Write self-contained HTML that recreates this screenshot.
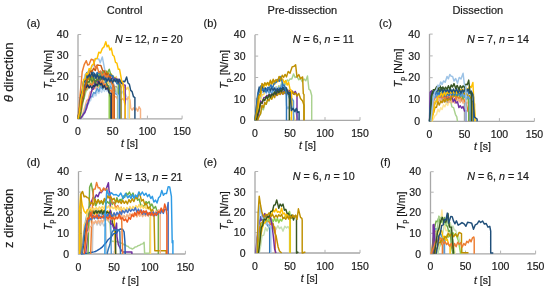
<!DOCTYPE html><html><head><meta charset="utf-8"><style>html,body{margin:0;padding:0;background:#fff;}svg{display:block;}#w{will-change:transform;width:550px;height:289px;overflow:hidden;}text{font-family:"Liberation Sans",sans-serif;fill:#1a1a1a;stroke:#1a1a1a;stroke-width:0.2px;}</style></head><body>
<div id="w"><svg width="550" height="289" viewBox="0 0 550 289">
<path d="M78.0 34.5V118.8H182.1" fill="none" stroke="#a8a8a8" stroke-width="1.3"/>
<path d="M78.0 118.8H81.2" stroke="#b3b3b3" stroke-width="1"/>
<path d="M78.0 97.7H81.2" stroke="#b3b3b3" stroke-width="1"/>
<path d="M78.0 76.7H81.2" stroke="#b3b3b3" stroke-width="1"/>
<path d="M78.0 55.6H81.2" stroke="#b3b3b3" stroke-width="1"/>
<path d="M78.0 34.5H81.2" stroke="#b3b3b3" stroke-width="1"/>
<path d="M78.0 118.8V115.6" stroke="#b3b3b3" stroke-width="1"/>
<path d="M112.7 118.8V115.6" stroke="#b3b3b3" stroke-width="1"/>
<path d="M147.4 118.8V115.6" stroke="#b3b3b3" stroke-width="1"/>
<path d="M182.1 118.8V115.6" stroke="#b3b3b3" stroke-width="1"/>
<polyline fill="none" stroke="#A5A5A5" stroke-width="1.45" stroke-linejoin="round" points="78.7,118.8 80.3,112.3 81.9,102.4 83.6,97.4 85.2,91.3 86.8,90.2 88.4,83.8 89.8,85.0 91.2,81.9 92.6,83.3 94.0,80.3 95.3,81.7 96.7,80.4 98.1,83.1 99.5,80.1 100.9,83.5 102.3,81.9 103.7,84.3 105.1,79.9 106.5,83.3 107.8,79.9 109.2,83.1 110.6,81.3 112.0,85.5 113.4,83.5 114.8,86.9 116.2,86.3 117.9,90.5 119.6,91.4 119.6,118.8"/>
<polyline fill="none" stroke="#43682B" stroke-width="1.45" stroke-linejoin="round" points="78.7,118.8 80.4,108.2 82.2,92.5 83.6,90.9 84.9,83.4 86.3,82.2 87.7,78.2 89.1,79.6 90.5,76.9 91.9,77.7 93.3,75.3 94.7,78.9 96.0,76.7 97.4,80.0 98.8,77.3 100.2,78.9 101.6,74.7 103.0,77.4 104.4,73.4 105.8,78.3 107.1,77.2 108.5,83.0 109.9,83.2 111.3,90.5 112.0,93.5 112.0,118.8"/>
<polyline fill="none" stroke="#BDD7EE" stroke-width="1.45" stroke-linejoin="round" points="82.2,118.8 83.6,114.6 84.9,112.6 86.3,105.3 87.7,105.4 89.1,100.0 90.5,100.8 91.9,96.2 93.3,97.2 94.7,93.4 96.0,95.9 97.4,91.0 98.8,93.5 100.2,89.8 101.6,92.4 103.0,88.5 104.4,91.4 105.8,87.9 107.1,91.4 108.5,87.1 109.9,90.8 111.3,87.5 112.7,90.1 114.1,87.9 115.5,91.9 116.9,88.3 118.3,93.0 119.6,90.2 121.0,93.6 122.4,91.3 123.8,94.7 125.2,93.3 126.6,96.6 128.0,97.7 128.0,118.8"/>
<polyline fill="none" stroke="#A9D18E" stroke-width="1.45" stroke-linejoin="round" points="79.4,118.8 80.8,112.5 82.2,107.0 83.6,99.0 84.9,95.4 86.3,90.0 87.7,89.3 89.1,84.3 90.5,85.1 91.9,81.7 93.3,83.6 94.7,80.1 96.0,83.4 97.4,78.8 98.8,82.6 100.2,78.9 101.6,81.0 103.0,77.9 104.4,80.9 105.8,77.3 107.1,81.4 108.5,80.3 109.9,83.2 111.3,81.9 112.9,87.3 114.6,86.9 116.2,92.5 117.6,93.5 117.6,118.8"/>
<polyline fill="none" stroke="#F4B183" stroke-width="1.45" stroke-linejoin="round" points="81.5,118.8 83.2,112.5 84.9,106.9 86.7,100.6 88.4,99.0 90.1,91.9 91.9,91.5 93.6,86.4 95.3,88.7 96.7,85.1 98.1,88.1 99.5,85.1 100.9,87.7 102.3,83.1 103.7,87.6 105.1,83.9 106.5,87.7 107.8,85.4 109.2,88.1 110.6,87.6 112.0,92.2 113.4,92.7 114.8,96.7 116.2,96.8 117.9,100.0 119.6,99.1 121.1,100.4 122.6,98.6 124.1,100.2 125.6,97.9 127.1,99.8 128.6,96.8 130.1,100.5 130.7,108.2 132.1,110.2 133.5,107.8 134.9,110.4 136.3,108.2 137.7,111.2 139.1,106.8 140.5,109.1 140.5,118.8"/>
<polyline fill="none" stroke="#92D050" stroke-width="1.45" stroke-linejoin="round" points="78.7,118.8 80.4,110.8 82.2,98.4 83.6,96.5 84.9,90.5 86.3,88.4 87.7,85.0 89.1,87.1 90.5,83.1 91.9,83.7 93.3,81.2 94.7,85.4 96.0,83.3 97.4,86.2 98.8,84.3 100.2,87.1 101.6,83.6 103.0,88.4 104.4,84.9 105.8,88.3 107.5,87.0 109.2,89.3 109.2,118.8"/>
<polyline fill="none" stroke="#5B9BD5" stroke-width="1.45" stroke-linejoin="round" points="80.8,118.8 82.2,116.0 83.6,113.2 84.9,111.3 86.7,104.2 88.4,103.5 90.1,96.8 91.9,96.8 93.6,92.5 95.3,93.4 97.1,88.1 98.8,91.4 100.6,86.2 102.3,89.2 104.0,84.2 105.8,86.1 107.5,84.6 109.2,88.5 111.0,87.5 112.7,90.0 114.4,90.2 116.2,94.6 117.9,93.8 119.6,100.0 121.0,99.8 121.0,118.8"/>
<polyline fill="none" stroke="#FFD966" stroke-width="1.45" stroke-linejoin="round" points="80.1,118.8 81.5,111.8 82.9,99.7 84.2,95.8 85.6,87.8 87.0,87.8 88.4,81.9 89.8,82.8 91.2,79.4 92.6,80.2 94.0,76.2 95.3,78.8 96.7,75.0 98.1,79.0 99.5,76.2 100.9,80.3 102.3,77.9 103.7,81.4 105.1,78.3 106.5,83.2 107.8,80.2 109.2,84.4 110.6,81.1 112.0,83.3 113.4,79.2 114.8,81.6 116.2,76.5 117.8,82.2 119.4,81.6 121.0,87.3 122.4,84.0 123.8,87.7 125.2,86.7 126.6,89.4 128.0,87.1 129.4,91.4 129.4,118.8"/>
<polyline fill="none" stroke="#70AD47" stroke-width="1.45" stroke-linejoin="round" points="78.0,118.8 79.7,108.2 81.5,92.6 83.2,89.2 84.9,78.6 86.7,80.5 88.4,75.4 90.1,79.3 91.9,77.9 93.3,78.6 94.7,74.8 96.0,78.0 97.4,73.8 98.8,76.8 100.2,72.7 101.6,75.8 103.0,71.2 104.4,73.9 105.8,71.3 107.5,72.6 109.2,69.2 111.0,75.1 112.7,75.5 114.4,80.1 116.2,80.0 118.3,83.0 118.3,118.8"/>
<polyline fill="none" stroke="#BF9000" stroke-width="1.45" stroke-linejoin="round" points="78.0,118.8 79.6,111.1 81.2,97.9 82.9,90.7 84.6,83.4 86.3,83.0 87.7,78.1 89.1,80.2 90.5,75.1 92.1,77.5 93.7,73.7 95.3,75.3 97.0,74.5 98.6,78.3 100.2,78.1 101.6,79.2 103.0,74.6 104.4,75.5 105.8,70.6 107.1,74.9 108.5,72.9 109.9,76.5 111.3,74.2 112.7,78.6 114.1,77.2 115.5,81.1 116.9,79.8 118.3,84.1 119.6,83.1 121.0,87.2 121.0,118.8"/>
<polyline fill="none" stroke="#ED7D31" stroke-width="1.45" stroke-linejoin="round" points="79.4,118.8 80.8,109.8 82.2,96.1 83.6,95.4 84.9,87.1 86.3,89.7 87.7,85.5 89.1,87.7 90.5,83.6 92.1,85.5 93.7,80.8 95.3,82.4 96.7,79.8 98.1,83.9 99.5,80.3 100.9,84.7 102.3,80.7 103.7,85.4 105.1,83.9 106.5,89.0 107.8,86.0 109.2,90.2 111.0,90.5 112.7,94.9 114.1,95.6 114.1,118.8"/>
<polyline fill="none" stroke="#7030A0" stroke-width="1.45" stroke-linejoin="round" points="80.1,118.8 81.7,116.7 83.3,114.6 84.9,112.5 86.7,108.0 88.4,100.8 90.1,97.5 91.9,89.6 93.6,89.1 95.3,80.8 97.1,81.8 98.8,76.9 100.2,80.1 101.6,77.0 103.0,79.6 104.4,74.8 105.8,77.7 107.1,74.8 108.5,78.8 109.9,76.4 111.3,80.6 112.7,76.7 114.1,80.1 115.5,78.2 116.9,81.6 118.3,79.2 119.6,81.9 121.4,80.7 123.1,84.8 125.2,85.1 125.2,118.8"/>
<polyline fill="none" stroke="#548235" stroke-width="1.45" stroke-linejoin="round" points="79.4,118.8 80.8,112.5 82.2,103.2 83.6,99.1 84.9,90.7 86.3,86.3 87.7,81.3 89.1,82.4 90.5,78.0 92.1,81.8 93.7,78.2 95.3,83.1 96.7,79.2 98.1,80.3 99.5,77.6 100.9,79.5 102.3,75.5 103.9,79.7 105.5,79.5 107.1,85.1 108.5,86.2 109.9,94.6 110.6,97.7 110.6,118.8"/>
<polyline fill="none" stroke="#2E75B6" stroke-width="1.45" stroke-linejoin="round" points="78.0,118.8 79.4,109.9 80.8,96.9 82.2,90.9 83.6,81.1 84.9,77.5 86.7,72.7 88.4,72.1 90.1,70.0 91.9,73.3 93.6,72.3 95.3,78.4 97.1,72.5 98.8,73.3 100.6,71.4 102.3,75.3 104.0,75.6 105.8,82.3 107.1,78.6 108.5,80.4 109.9,74.5 111.3,75.7 112.7,75.7 114.1,80.3 115.5,79.8 116.9,83.8 118.3,83.1 119.6,85.1 119.6,118.8"/>
<polyline fill="none" stroke="#203864" stroke-width="1.45" stroke-linejoin="round" points="78.0,118.8 79.7,106.9 81.5,92.5 83.2,90.5 84.9,83.9 86.3,87.4 87.7,84.8 89.1,87.9 90.5,85.8 91.9,88.5 93.3,85.6 94.7,86.6 96.0,83.9 97.4,85.7 98.8,81.4 100.2,84.8 101.6,83.2 103.0,87.7 104.4,85.5 105.8,89.2 107.5,87.9 109.2,92.9 111.3,93.5 111.3,118.8"/>
<polyline fill="none" stroke="#9DC3E6" stroke-width="1.45" stroke-linejoin="round" points="78.0,118.8 79.7,110.3 81.5,96.4 83.2,88.7 84.9,74.8 86.7,76.8 88.4,71.2 90.1,72.4 91.9,66.4 93.6,65.7 95.3,58.4 97.4,58.9 98.8,59.0 100.2,62.8 102.3,56.9 104.4,68.0 105.8,75.5 107.5,79.7 109.2,80.0 111.0,86.1 112.7,85.1 114.4,92.1 116.2,92.4 118.3,95.6 118.3,118.8"/>
<polyline fill="none" stroke="#C55A11" stroke-width="1.45" stroke-linejoin="round" points="78.0,118.8 79.4,112.5 80.8,107.3 82.2,98.7 83.6,94.9 84.9,86.9 86.3,83.7 87.7,75.5 89.1,76.8 90.5,70.2 91.9,71.9 93.6,68.2 95.3,70.5 97.1,64.9 98.8,65.3 100.9,65.4 102.6,70.6 104.4,71.0 105.8,75.0 107.1,73.5 108.5,77.1 109.9,76.0 111.3,82.0 112.7,84.2 114.1,87.2 114.1,118.8"/>
<polyline fill="none" stroke="#ED7D31" stroke-width="1.45" stroke-linejoin="round" points="78.0,118.8 80.1,94.9 82.2,71.7 84.2,64.7 86.3,60.7 87.7,65.1 89.1,64.5 91.2,59.2 93.3,60.0 95.3,67.9 97.1,66.4 98.8,72.5 100.6,71.1 102.3,75.8 104.0,73.3 105.8,77.6 107.5,75.8 109.2,80.5 111.3,82.2 112.7,85.1 112.7,118.8"/>
<polyline fill="none" stroke="#1F4E79" stroke-width="1.45" stroke-linejoin="round" points="78.0,118.8 79.4,110.3 80.8,95.6 82.2,92.1 83.6,81.1 84.9,81.8 86.3,75.7 87.7,77.7 89.1,74.1 90.5,77.1 91.9,72.5 93.3,77.0 94.7,73.7 96.0,78.0 97.4,74.4 98.8,78.5 100.2,76.0 101.6,78.2 103.0,77.0 104.4,79.6 105.8,77.9 107.1,81.2 108.5,78.0 109.9,81.7 111.3,78.7 112.7,82.7 114.1,79.4 115.5,81.6 116.9,78.9 118.3,82.8 119.6,79.3 121.4,83.5 123.1,81.2 124.8,81.7 126.6,76.9 128.0,83.0 129.4,84.3 130.7,90.4 132.1,91.6 133.5,96.7 134.9,97.7 134.9,118.8"/>
<polyline fill="none" stroke="#FFC000" stroke-width="1.45" stroke-linejoin="round" points="78.0,118.8 79.4,112.3 80.8,99.7 82.2,92.9 83.6,79.6 84.9,79.5 86.3,73.4 87.7,74.4 89.1,68.6 90.5,69.9 91.9,65.3 93.6,63.9 95.3,58.7 97.1,58.5 98.8,52.3 100.6,53.0 102.3,48.5 104.0,46.9 105.8,41.8 107.1,46.8 108.5,45.3 109.9,50.0 111.3,48.1 112.7,55.0 114.1,56.2 115.5,62.3 116.9,63.1 118.3,69.3 119.6,69.3 121.7,81.0 123.1,82.9 124.5,102.7 125.2,106.2 125.2,118.8"/>
<text x="68.5" y="122.5" font-size="10.5" text-anchor="end">0</text>
<text x="68.5" y="101.4" font-size="10.5" text-anchor="end">10</text>
<text x="68.5" y="80.4" font-size="10.5" text-anchor="end">20</text>
<text x="68.5" y="59.3" font-size="10.5" text-anchor="end">30</text>
<text x="68.5" y="38.2" font-size="10.5" text-anchor="end">40</text>
<text x="78.0" y="135.4" font-size="10.5" text-anchor="middle">0</text>
<text x="112.7" y="135.4" font-size="10.5" text-anchor="middle">50</text>
<text x="147.4" y="135.4" font-size="10.5" text-anchor="middle">100</text>
<text x="182.1" y="135.4" font-size="10.5" text-anchor="middle">150</text>
<text x="129.5" y="147.1" font-size="10.5" text-anchor="middle"><tspan font-style="italic">t</tspan> [s]</text>
<text transform="translate(51.5 69.5) rotate(-90)" font-size="10.5" text-anchor="middle"><tspan font-style="italic">T</tspan><tspan font-size="7.5" dy="2.5">p</tspan><tspan dy="-2.5"> [N/m]</tspan></text>
<text x="114.9" y="43.3" font-size="10.7"><tspan font-style="italic">N</tspan> = 12, <tspan font-style="italic">n</tspan> = 20</text>
<text x="26.8" y="27.3" font-size="11">(a)</text>
<text x="124.6" y="14.3" font-size="11" text-anchor="middle">Control</text>
<path d="M255.0 34.7V120.3H360.0" fill="none" stroke="#a8a8a8" stroke-width="1.3"/>
<path d="M255.0 120.3H258.2" stroke="#b3b3b3" stroke-width="1"/>
<path d="M255.0 98.9H258.2" stroke="#b3b3b3" stroke-width="1"/>
<path d="M255.0 77.5H258.2" stroke="#b3b3b3" stroke-width="1"/>
<path d="M255.0 56.1H258.2" stroke="#b3b3b3" stroke-width="1"/>
<path d="M255.0 34.7H258.2" stroke="#b3b3b3" stroke-width="1"/>
<path d="M255.0 120.3V117.1" stroke="#b3b3b3" stroke-width="1"/>
<path d="M290.0 120.3V117.1" stroke="#b3b3b3" stroke-width="1"/>
<path d="M325.0 120.3V117.1" stroke="#b3b3b3" stroke-width="1"/>
<path d="M360.0 120.3V117.1" stroke="#b3b3b3" stroke-width="1"/>
<polyline fill="none" stroke="#A9D18E" stroke-width="1.45" stroke-linejoin="round" points="257.1,120.3 258.7,116.7 260.4,114.6 262.0,107.5 263.4,109.8 264.8,103.9 266.2,104.3 267.6,100.0 269.0,101.2 270.4,96.1 271.8,97.1 273.2,92.8 274.6,93.6 276.0,88.1 277.4,90.0 278.8,85.7 280.2,88.0 281.6,83.0 283.0,85.8 284.4,82.0 285.8,84.4 287.2,79.9 288.6,81.2 290.0,78.9 291.8,79.0 293.5,73.9 295.2,77.6 297.0,76.6 298.8,79.8 300.5,78.4 302.2,81.7 304.0,78.9 305.8,80.8 307.5,76.0 308.9,89.1 310.3,90.3 311.7,95.5 311.7,120.3"/>
<polyline fill="none" stroke="#FFD966" stroke-width="1.45" stroke-linejoin="round" points="256.4,120.3 257.8,115.1 259.2,103.8 260.6,100.1 262.2,94.7 263.9,94.6 265.5,88.0 266.9,91.6 268.3,88.2 269.7,90.5 271.1,87.5 272.5,89.0 273.9,87.3 275.3,90.3 276.7,87.0 278.1,90.4 279.5,87.1 280.9,89.8 282.3,87.5 283.7,90.5 285.1,88.6 286.5,92.6 288.1,89.6 289.8,95.2 291.4,92.9 293.5,113.9 294.9,120.3"/>
<polyline fill="none" stroke="#9DC3E6" stroke-width="1.45" stroke-linejoin="round" points="255.7,120.3 257.1,112.9 258.5,98.8 260.2,98.4 262.0,90.6 263.4,92.8 264.8,89.7 266.2,92.7 267.6,88.8 269.0,92.1 270.4,88.7 271.8,90.3 273.2,86.8 274.6,89.5 276.0,86.7 277.4,89.9 278.8,87.9 280.2,91.4 281.6,87.6 283.0,91.5 284.4,89.6 285.8,93.7 286.5,105.8 287.9,108.8 289.3,106.5 290.7,108.4 292.1,106.4 293.5,109.7 295.2,110.2 297.0,116.0 298.4,120.3"/>
<polyline fill="none" stroke="#7030A0" stroke-width="1.45" stroke-linejoin="round" points="257.1,120.3 258.9,112.8 260.6,101.0 262.2,103.4 263.9,97.4 265.5,97.7 266.9,95.3 268.3,96.8 269.7,94.2 271.1,95.9 272.5,93.5 273.9,95.3 275.3,92.1 276.7,95.5 278.1,91.0 279.5,93.9 280.9,91.1 282.3,94.0 283.7,91.2 285.1,93.7 286.5,91.7 287.9,93.6 289.3,90.2 290.7,93.4 292.1,90.9 293.5,94.2 295.2,91.4 297.0,94.6 297.0,120.3"/>
<polyline fill="none" stroke="#5B9BD5" stroke-width="1.45" stroke-linejoin="round" points="255.0,120.3 256.8,106.4 258.5,89.2 260.2,90.4 262.0,86.8 263.4,90.5 264.8,87.6 266.2,92.9 267.6,89.5 269.0,93.2 270.4,91.3 271.8,93.5 273.2,89.0 274.6,92.2 276.0,88.7 277.4,90.2 278.8,87.3 280.2,90.0 281.6,84.8 283.0,88.2 284.8,87.0 286.5,93.6 288.2,94.8 290.0,99.9 291.8,98.4 293.5,101.0 293.5,120.3"/>
<polyline fill="none" stroke="#BF9000" stroke-width="1.45" stroke-linejoin="round" points="257.8,120.3 259.2,116.0 260.6,113.6 262.0,105.2 263.4,107.7 264.8,102.3 266.2,104.3 267.6,99.2 269.0,100.5 270.4,97.3 271.8,99.2 273.2,95.2 274.6,97.7 276.0,92.8 277.4,95.4 278.8,92.8 280.2,94.4 281.6,91.2 283.0,94.3 284.4,91.6 285.8,93.3 287.2,90.9 288.6,94.1 290.0,91.1 291.4,94.0 292.8,91.6 294.2,94.5 295.6,93.0 297.0,96.1 298.8,93.4 300.5,98.5 302.6,101.0 304.0,105.3 304.0,120.3"/>
<polyline fill="none" stroke="#FFC000" stroke-width="1.45" stroke-linejoin="round" points="256.4,120.3 257.8,111.1 259.2,97.8 260.6,95.7 262.0,88.1 263.4,87.9 264.8,84.3 266.2,85.7 267.6,82.9 269.0,85.7 270.4,82.1 271.8,84.2 273.2,80.8 274.6,84.4 276.0,80.7 277.6,81.8 279.3,79.1 280.9,81.0 282.6,78.9 284.4,82.8 285.8,80.5 287.2,85.1 288.6,82.4 290.0,89.2 291.4,90.3 291.4,120.3"/>
<polyline fill="none" stroke="#375623" stroke-width="1.45" stroke-linejoin="round" points="256.4,120.3 257.8,113.9 259.2,109.8 260.6,103.0 262.0,103.1 263.4,99.1 264.8,100.4 266.2,96.5 267.6,98.8 269.0,94.5 270.4,97.4 271.8,94.0 273.2,95.3 274.6,91.9 276.0,94.3 277.4,89.8 278.8,92.6 280.2,89.8 281.6,91.8 283.0,88.0 284.4,90.2 285.8,87.4 287.9,93.3 289.3,94.6 289.3,120.3"/>
<polyline fill="none" stroke="#1F4E79" stroke-width="1.45" stroke-linejoin="round" points="255.0,120.3 257.1,100.2 259.2,87.1 260.6,90.9 262.0,86.3 263.8,91.6 265.5,88.1 267.2,90.5 269.0,87.2 270.4,90.9 271.8,87.1 273.2,90.2 274.6,88.1 276.0,91.7 277.4,88.6 278.8,90.7 280.2,88.1 281.6,89.3 283.0,87.0 284.8,90.6 286.5,88.1 288.2,93.4 290.0,92.3 291.4,110.6 293.1,108.3 294.9,111.7 296.3,108.3 297.7,112.4 299.1,111.7 299.1,120.3"/>
<polyline fill="none" stroke="#2E75B6" stroke-width="1.45" stroke-linejoin="round" points="255.0,120.3 256.4,108.3 257.8,93.1 259.2,92.7 260.6,86.0 262.4,90.3 264.1,89.0 265.9,91.5 267.6,87.5 269.2,88.9 270.9,84.7 272.5,88.0 274.2,83.1 276.0,82.6 277.6,79.6 279.3,81.2 280.9,76.4 283.0,85.9 284.4,84.9 285.8,91.6 286.5,94.6 286.5,120.3"/>
<polyline fill="none" stroke="#BF9000" stroke-width="1.45" stroke-linejoin="round" points="255.0,120.3 256.8,110.8 258.5,96.6 260.2,93.5 262.0,83.4 263.4,86.1 264.8,82.7 266.2,84.7 267.6,82.5 269.0,84.8 270.4,80.2 271.8,83.7 273.2,79.3 274.6,81.9 276.0,79.6 277.6,81.2 279.1,76.4 280.7,79.9 282.3,75.3 283.7,77.3 285.1,74.4 286.5,76.9 288.2,71.5 290.0,73.2 292.1,66.9 294.2,66.2 295.6,64.7 297.0,77.1 298.8,74.6 300.5,78.7 302.6,76.9 303.3,93.6 304.0,94.6 304.0,120.3"/>
<text x="245.5" y="124.0" font-size="10.5" text-anchor="end">0</text>
<text x="245.5" y="102.6" font-size="10.5" text-anchor="end">10</text>
<text x="245.5" y="81.2" font-size="10.5" text-anchor="end">20</text>
<text x="245.5" y="59.8" font-size="10.5" text-anchor="end">30</text>
<text x="245.5" y="38.4" font-size="10.5" text-anchor="end">40</text>
<text x="255.0" y="136.9" font-size="10.5" text-anchor="middle">0</text>
<text x="290.0" y="136.9" font-size="10.5" text-anchor="middle">50</text>
<text x="325.0" y="136.9" font-size="10.5" text-anchor="middle">100</text>
<text x="360.0" y="136.9" font-size="10.5" text-anchor="middle">150</text>
<text x="307.4" y="149.0" font-size="10.5" text-anchor="middle"><tspan font-style="italic">t</tspan> [s]</text>
<text transform="translate(228.1 69.5) rotate(-90)" font-size="10.5" text-anchor="middle"><tspan font-style="italic">T</tspan><tspan font-size="7.5" dy="2.5">p</tspan><tspan dy="-2.5"> [N/m]</tspan></text>
<text x="292.8" y="43.3" font-size="10.7"><tspan font-style="italic">N</tspan> = 6, <tspan font-style="italic">n</tspan> = 11</text>
<text x="203.6" y="27.3" font-size="11">(b)</text>
<text x="302.4" y="14.3" font-size="11" text-anchor="middle">Pre-dissection</text>
<path d="M429.5 34.1V121.3H534.4" fill="none" stroke="#a8a8a8" stroke-width="1.3"/>
<path d="M429.5 121.3H432.7" stroke="#b3b3b3" stroke-width="1"/>
<path d="M429.5 99.5H432.7" stroke="#b3b3b3" stroke-width="1"/>
<path d="M429.5 77.7H432.7" stroke="#b3b3b3" stroke-width="1"/>
<path d="M429.5 55.9H432.7" stroke="#b3b3b3" stroke-width="1"/>
<path d="M429.5 34.1H432.7" stroke="#b3b3b3" stroke-width="1"/>
<path d="M429.5 121.3V118.1" stroke="#b3b3b3" stroke-width="1"/>
<path d="M464.5 121.3V118.1" stroke="#b3b3b3" stroke-width="1"/>
<path d="M499.4 121.3V118.1" stroke="#b3b3b3" stroke-width="1"/>
<path d="M534.4 121.3V118.1" stroke="#b3b3b3" stroke-width="1"/>
<polyline fill="none" stroke="#A5A5A5" stroke-width="1.45" stroke-linejoin="round" points="430.9,121.3 432.3,114.6 433.7,103.0 435.3,103.8 436.8,99.7 438.4,101.7 440.0,98.7 441.4,100.7 442.8,98.7 444.2,102.1 445.6,98.9 447.0,103.9 448.4,98.4 449.8,101.1 451.2,98.2 452.6,99.1 454.0,95.8 455.4,99.7 456.8,96.7 458.2,99.7 459.6,97.6 461.0,101.3 462.7,98.7 464.5,101.7 464.5,121.3"/>
<polyline fill="none" stroke="#FFE699" stroke-width="1.45" stroke-linejoin="round" points="432.3,121.3 433.7,118.4 435.1,115.5 436.5,114.6 437.9,109.1 439.3,111.8 440.7,107.7 442.1,109.5 443.5,104.8 444.9,106.8 446.3,102.9 447.7,105.4 449.1,101.5 450.5,102.8 451.9,99.7 453.3,100.9 454.7,96.9 456.1,99.9 457.5,96.1 458.9,99.1 460.3,95.8 461.7,100.2 463.1,98.0 464.5,101.6 465.9,98.1 467.3,102.7 468.7,99.9 470.1,102.8 471.5,99.6 473.2,104.9 475.0,103.9 475.0,121.3"/>
<polyline fill="none" stroke="#A9D18E" stroke-width="1.45" stroke-linejoin="round" points="430.9,121.3 432.3,114.8 433.7,103.1 435.1,102.9 436.5,98.6 437.9,98.4 439.3,94.4 440.7,97.9 442.1,93.4 443.5,96.5 444.9,94.0 446.3,98.8 447.7,97.3 449.1,101.5 450.5,100.5 451.9,106.9 453.6,107.6 455.4,114.3 456.8,116.9 457.5,121.3"/>
<polyline fill="none" stroke="#F4B183" stroke-width="1.45" stroke-linejoin="round" points="430.2,121.3 432.3,105.0 433.7,99.3 435.1,98.3 436.8,97.3 438.6,100.7 440.2,98.5 441.9,102.8 443.5,100.6 445.2,101.3 447.0,98.2 448.7,102.4 450.5,100.7 451.9,102.7 453.3,100.2 454.7,103.1 456.1,99.2 457.5,101.4 458.9,99.9 460.3,102.4 461.7,99.6 463.1,103.2 464.5,100.8 466.2,103.8 468.0,102.0 468.7,106.0 468.7,121.3"/>
<polyline fill="none" stroke="#7030A0" stroke-width="1.45" stroke-linejoin="round" points="429.5,121.3 430.2,92.2 431.6,90.7 433.0,94.2 434.4,91.1 435.8,95.1 437.2,92.6 438.6,96.0 440.0,93.7 441.4,97.8 442.8,93.6 444.2,97.8 445.6,95.8 447.0,99.3 448.6,97.0 450.2,99.5 451.9,97.3 453.3,101.7 454.7,98.8 456.1,103.1 457.5,101.7 458.9,107.5 460.3,105.8 461.7,108.2 463.1,106.6 464.5,111.1 465.9,110.4 465.9,121.3"/>
<polyline fill="none" stroke="#ED7D31" stroke-width="1.45" stroke-linejoin="round" points="430.9,121.3 433.0,103.9 434.7,97.5 436.5,96.9 437.9,94.2 439.3,97.6 440.7,95.5 442.1,98.1 443.5,95.7 444.9,99.2 446.3,95.6 447.7,97.6 449.1,93.5 450.5,97.5 451.9,94.5 453.3,96.9 454.7,94.1 456.1,99.2 457.5,95.8 458.9,98.6 460.3,95.9 461.7,100.0 463.1,96.8 464.5,101.3 466.2,102.9 468.0,111.4 469.4,112.6 469.4,121.3"/>
<polyline fill="none" stroke="#BF9000" stroke-width="1.45" stroke-linejoin="round" points="430.2,121.3 431.9,115.8 433.7,112.4 435.1,107.1 436.5,107.4 437.9,101.7 439.3,105.1 440.7,101.2 442.1,102.5 443.5,99.2 444.9,101.9 446.3,98.7 447.7,100.7 449.1,98.4 450.7,100.0 452.3,94.4 454.0,95.9 455.4,93.0 456.8,96.3 458.2,93.0 459.6,95.5 461.0,92.0 462.4,95.1 463.8,92.2 465.2,96.0 466.6,93.5 468.0,96.6 469.7,95.6 471.5,100.9 472.9,101.7 472.9,121.3"/>
<polyline fill="none" stroke="#70AD47" stroke-width="1.45" stroke-linejoin="round" points="429.5,121.3 431.6,97.0 433.3,91.5 435.1,92.2 436.5,90.0 437.9,92.5 439.3,89.2 440.7,91.9 442.1,88.8 443.5,92.8 444.9,89.7 446.3,92.7 447.7,90.6 449.1,93.4 450.5,92.0 451.9,94.8 453.3,93.0 454.7,95.7 456.1,93.1 457.5,95.9 458.9,93.8 460.3,96.9 461.7,94.5 463.1,98.9 464.5,95.8 466.2,99.2 468.0,97.9 468.7,101.7 468.7,121.3"/>
<polyline fill="none" stroke="#5B9BD5" stroke-width="1.45" stroke-linejoin="round" points="430.2,121.3 432.3,100.9 433.7,95.7 435.1,97.5 436.5,93.0 437.9,97.1 439.3,92.3 440.7,95.9 442.1,92.3 443.5,95.3 444.9,91.0 446.3,94.4 447.7,89.4 449.1,92.2 450.5,88.7 452.0,93.7 453.5,91.2 455.0,94.0 456.5,91.3 458.0,94.9 459.5,92.3 461.0,96.3 462.4,93.5 463.8,97.0 465.2,94.9 466.6,99.2 468.0,96.3 470.1,99.5 470.1,121.3"/>
<polyline fill="none" stroke="#2E75B6" stroke-width="1.45" stroke-linejoin="round" points="429.5,121.3 431.6,94.1 433.2,91.4 434.9,94.2 436.5,92.2 437.9,94.2 439.3,92.4 440.7,95.9 442.1,92.0 443.5,96.3 444.9,93.0 446.3,96.1 447.7,93.1 449.1,95.7 450.5,92.3 451.9,95.2 453.3,91.4 454.7,95.1 456.1,91.5 457.5,95.2 458.9,91.6 460.3,94.5 461.7,89.9 463.1,92.6 464.5,88.7 465.9,92.5 467.3,89.5 468.7,94.1 470.1,91.6 471.5,96.1 472.9,93.7 473.6,97.3 473.6,121.3"/>
<polyline fill="none" stroke="#FFC000" stroke-width="1.45" stroke-linejoin="round" points="431.6,121.3 433.3,113.6 435.1,101.9 436.7,101.7 438.4,95.9 440.0,96.3 441.4,92.9 442.8,96.6 444.2,92.1 445.6,95.2 447.0,91.7 448.4,93.5 449.8,91.7 451.2,93.3 452.6,90.3 454.0,93.3 455.4,90.1 456.8,93.7 458.2,90.3 459.6,92.1 461.0,89.0 462.4,91.1 463.8,89.2 465.2,90.8 466.6,88.1 468.0,89.9 469.6,86.0 471.2,87.4 472.9,82.5 473.6,96.2 474.3,108.6 475.0,114.8 475.0,121.3"/>
<polyline fill="none" stroke="#1F4E79" stroke-width="1.45" stroke-linejoin="round" points="429.5,121.3 430.9,96.7 432.3,92.0 433.7,93.1 435.3,89.4 436.8,91.2 438.4,89.1 440.0,91.5 441.5,87.7 443.0,92.0 444.5,88.8 446.0,91.5 447.5,89.7 449.0,92.4 450.5,89.1 452.0,92.1 453.5,89.0 455.0,92.2 456.5,88.5 458.0,92.7 459.5,89.6 461.0,93.0 462.4,89.8 463.8,92.0 465.2,88.7 466.6,91.0 468.0,88.9 469.6,92.8 471.2,91.1 472.9,94.6 474.3,116.9 475.7,118.0 477.1,119.1 477.1,121.3"/>
<polyline fill="none" stroke="#375623" stroke-width="1.45" stroke-linejoin="round" points="430.2,121.3 431.6,95.2 433.3,89.8 435.1,89.6 436.7,86.5 438.4,89.5 440.0,85.7 441.4,89.8 442.8,86.9 444.2,89.4 445.6,87.2 447.0,89.4 448.4,85.8 449.8,89.5 451.2,85.0 452.6,87.1 454.0,83.6 455.6,88.3 457.2,85.4 458.9,89.5 460.3,85.8 461.7,88.1 463.1,85.8 464.5,87.5 465.9,84.2 467.3,84.8 468.7,80.1 470.1,92.7 471.5,93.0 471.5,121.3"/>
<polyline fill="none" stroke="#9DC3E6" stroke-width="1.45" stroke-linejoin="round" points="430.9,121.3 433.0,101.6 434.7,92.1 436.5,89.8 437.9,85.1 439.3,86.4 440.7,81.9 442.1,84.6 443.5,80.9 445.2,82.2 447.0,76.5 448.4,78.8 449.8,74.4 451.2,76.3 452.6,76.5 454.0,81.0 455.7,78.5 457.5,83.3 459.2,77.4 461.0,79.0 463.1,73.3 464.5,85.5 465.9,86.4 465.9,121.3"/>
<text x="420.0" y="125.0" font-size="10.5" text-anchor="end">0</text>
<text x="420.0" y="103.2" font-size="10.5" text-anchor="end">10</text>
<text x="420.0" y="81.4" font-size="10.5" text-anchor="end">20</text>
<text x="420.0" y="59.6" font-size="10.5" text-anchor="end">30</text>
<text x="420.0" y="37.8" font-size="10.5" text-anchor="end">40</text>
<text x="429.5" y="137.9" font-size="10.5" text-anchor="middle">0</text>
<text x="464.5" y="137.9" font-size="10.5" text-anchor="middle">50</text>
<text x="499.4" y="137.9" font-size="10.5" text-anchor="middle">100</text>
<text x="534.4" y="137.9" font-size="10.5" text-anchor="middle">150</text>
<text x="482.4" y="150.0" font-size="10.5" text-anchor="middle"><tspan font-style="italic">t</tspan> [s]</text>
<text transform="translate(402.1 68.0) rotate(-90)" font-size="10.5" text-anchor="middle"><tspan font-style="italic">T</tspan><tspan font-size="7.5" dy="2.5">p</tspan><tspan dy="-2.5"> [N/m]</tspan></text>
<text x="467.1" y="42.8" font-size="10.7"><tspan font-style="italic">N</tspan> = 7, <tspan font-style="italic">n</tspan> = 14</text>
<text x="379.1" y="27.3" font-size="11">(c)</text>
<text x="477.8" y="14.3" font-size="11" text-anchor="middle">Dissection</text>
<path d="M78.5 171.5V254.0H185.4" fill="none" stroke="#a8a8a8" stroke-width="1.3"/>
<path d="M78.5 254.0H81.7" stroke="#b3b3b3" stroke-width="1"/>
<path d="M78.5 233.4H81.7" stroke="#b3b3b3" stroke-width="1"/>
<path d="M78.5 212.8H81.7" stroke="#b3b3b3" stroke-width="1"/>
<path d="M78.5 192.1H81.7" stroke="#b3b3b3" stroke-width="1"/>
<path d="M78.5 171.5H81.7" stroke="#b3b3b3" stroke-width="1"/>
<path d="M78.5 254.0V250.8" stroke="#b3b3b3" stroke-width="1"/>
<path d="M114.1 254.0V250.8" stroke="#b3b3b3" stroke-width="1"/>
<path d="M149.8 254.0V250.8" stroke="#b3b3b3" stroke-width="1"/>
<path d="M185.4 254.0V250.8" stroke="#b3b3b3" stroke-width="1"/>
<polyline fill="none" stroke="#C9C9C9" stroke-width="1.45" stroke-linejoin="round" points="92.3,254.0 93.0,225.4 95.6,220.9 97.1,225.0 98.6,221.7 100.3,225.5 102.0,221.9 103.9,226.0 105.8,223.1 106.6,254.0"/>
<polyline fill="none" stroke="#A9D18E" stroke-width="1.45" stroke-linejoin="round" points="84.2,254.0 85.6,244.1 87.1,232.9 88.5,227.5 89.9,220.6 91.3,220.0 92.8,218.0 94.2,217.1 95.6,216.2 97.0,216.5 98.5,215.6 99.9,216.1 101.3,216.3 102.7,217.3 104.2,217.2 105.6,218.6 107.0,218.7 108.4,221.2 109.9,222.9 111.3,242.0 112.7,241.1 114.1,241.7 115.6,240.8 117.2,242.0 118.9,242.0 120.6,243.2 122.3,243.0 123.7,244.7 125.1,244.6 126.6,246.0 128.0,246.2 129.4,247.9 130.9,248.2 132.3,249.1 133.8,248.2 135.3,246.9 136.7,246.8 138.2,245.6 139.7,245.3 141.2,244.1 142.7,243.9 144.1,242.2 144.6,253.4 146.3,253.2 148.1,253.1 149.8,253.0 150.2,217.3 150.2,254.0"/>
<polyline fill="none" stroke="#F8CBAD" stroke-width="1.45" stroke-linejoin="round" points="85.6,254.0 87.1,243.3 88.5,227.2 90.6,216.5 92.0,213.2 93.5,214.6 94.9,212.4 96.3,214.6 97.7,212.2 99.2,214.8 100.6,212.6 102.0,215.1 103.4,213.7 104.9,215.9 106.3,213.0 107.7,216.1 109.1,213.6 110.6,217.0 112.4,214.4 114.1,218.9 114.8,254.0"/>
<polyline fill="none" stroke="#5B9BD5" stroke-width="1.45" stroke-linejoin="round" points="80.6,254.0 82.1,247.4 83.5,236.8 85.6,220.3 87.8,211.4 89.4,214.0 91.1,210.2 92.8,212.5 94.2,209.6 95.6,212.5 97.0,209.9 98.5,213.2 99.9,210.8 101.3,214.1 102.7,212.9 104.2,215.0 105.6,212.5 107.0,217.0 108.8,215.2 110.6,218.3 111.3,254.0"/>
<polyline fill="none" stroke="#FFC000" stroke-width="1.45" stroke-linejoin="round" points="79.5,254.0 79.5,210.1 80.6,194.3 82.4,205.5 84.2,211.3 85.9,213.3 87.5,209.4 89.2,211.8 90.6,208.9 92.0,212.6 93.5,210.9 94.9,214.1 96.3,211.3 97.7,213.2 99.2,210.2 100.6,212.3 102.0,209.2 103.4,212.5 104.9,209.2 106.3,213.2 107.7,210.7 109.1,213.7 110.6,211.5 112.4,215.9 114.1,214.0 115.6,254.0"/>
<polyline fill="none" stroke="#375623" stroke-width="1.45" stroke-linejoin="round" points="82.1,254.0 83.8,243.7 85.6,228.5 87.4,223.0 89.2,213.7 91.0,215.9 92.8,211.3 94.2,213.8 95.6,210.3 97.0,213.2 98.5,210.5 99.9,213.2 101.3,210.0 102.7,214.0 104.2,210.6 105.6,213.8 107.0,211.6 108.8,213.7 110.6,210.7 112.4,222.7 114.1,227.4 115.6,231.3 115.6,254.0"/>
<polyline fill="none" stroke="#7030A0" stroke-width="1.45" stroke-linejoin="round" points="85.6,254.0 87.8,234.3 89.2,207.2 91.3,202.3 93.0,197.4 94.7,198.5 96.3,194.8 98.0,196.8 99.6,192.2 101.3,192.7 103.7,189.1 106.0,189.6 108.4,182.7 109.1,191.2 109.9,192.4 110.6,224.1 112.2,223.9 113.9,228.7 115.6,228.3 116.6,223.1 117.0,236.6 118.4,244.8 120.4,248.8 122.5,251.9 124.1,251.9 125.6,251.9 127.2,251.9 128.8,251.9 130.4,251.9 131.9,251.9 131.9,254.0"/>
<polyline fill="none" stroke="#1F5FAF" stroke-width="1.45" stroke-linejoin="round" points="81.1,254.0 82.7,253.8 84.3,253.6 85.9,253.4 87.5,253.2 89.0,252.8 90.6,252.5 92.2,252.2 93.8,251.9 95.3,251.5 97.0,250.6 98.6,249.6 100.2,248.6 102.2,247.1 104.2,244.7 106.2,242.6 108.1,239.7 110.9,237.2 113.7,233.6 116.5,233.1 117.9,230.7 119.3,229.5 120.9,229.0 122.5,229.2 124.1,231.9 124.9,241.6 125.2,254.0"/>
<polyline fill="none" stroke="#2E75B6" stroke-width="1.45" stroke-linejoin="round" points="107.0,254.0 108.4,248.8 109.9,244.5 112.0,232.4 114.1,229.5 116.3,230.6 117.7,229.5 119.8,231.4 120.5,254.0"/>
<polyline fill="none" stroke="#70AD47" stroke-width="1.45" stroke-linejoin="round" points="88.0,254.0 89.6,187.3 91.2,183.2 92.8,192.0 94.3,199.8 95.8,205.8 98.2,199.6 99.7,203.7 101.3,201.6 102.9,204.5 104.4,199.8 106.0,203.9 107.6,201.6 109.1,203.7 110.6,200.1 112.2,204.6 113.8,202.2 115.3,203.8 116.9,197.8 118.5,202.4 120.0,199.4 121.6,200.9 123.2,195.9 124.7,197.2 126.2,193.1 127.8,194.9 129.4,192.0 131.2,196.0 133.0,193.0 134.5,197.9 136.0,196.5 137.6,200.3 139.1,199.0 140.9,205.2 142.6,205.4 144.3,207.0 146.0,201.6 147.6,203.2 149.1,201.6 150.5,206.2 151.9,204.0 153.7,208.4 155.5,206.4 156.9,210.4 158.3,210.7 158.3,254.0"/>
<polyline fill="none" stroke="#ED7D31" stroke-width="1.45" stroke-linejoin="round" points="90.6,254.0 92.0,214.3 93.5,189.3 95.1,189.1 96.6,182.5 98.2,187.9 99.7,187.8 101.3,191.9 103.7,187.9 105.2,190.4 106.8,188.8 108.7,196.0 110.6,196.3 112.4,202.9 114.1,203.2 115.9,207.7 117.7,205.6 119.5,209.4 121.3,207.3 122.7,254.0"/>
<polyline fill="none" stroke="#FFD966" stroke-width="1.45" stroke-linejoin="round" points="81.4,254.0 82.8,241.5 84.2,224.3 85.9,221.9 87.5,212.9 89.2,209.4 90.6,207.5 92.0,209.9 93.5,207.9 94.9,210.0 96.3,207.3 97.8,210.1 99.4,206.8 100.9,208.9 102.4,206.4 103.9,209.0 105.5,204.7 107.0,208.1 108.5,205.8 110.1,209.1 111.6,206.2 113.1,208.7 114.6,207.1 116.2,210.3 117.7,206.7 119.2,210.3 120.8,207.2 122.3,210.2 123.8,207.6 125.3,210.8 126.9,207.4 128.4,210.3 129.9,206.4 131.4,210.0 133.0,206.3 134.5,208.6 136.0,205.6 137.6,207.7 139.1,204.6 140.5,208.1 141.9,205.0 143.4,208.4 144.8,206.3 146.2,208.9 147.6,206.7 149.1,209.3 150.5,208.6 150.5,254.0"/>
<polyline fill="none" stroke="#BF9000" stroke-width="1.45" stroke-linejoin="round" points="81.0,254.0 81.0,194.0 82.6,191.5 84.1,196.8 85.7,196.2 87.3,197.6 88.8,198.1 90.5,204.0 92.1,202.6 93.7,205.2 95.2,199.1 96.6,203.4 98.2,199.7 99.7,202.9 101.3,200.6 102.9,203.3 104.4,198.5 106.0,200.5 107.6,196.0 109.1,198.1 110.8,197.1 112.5,199.8 114.1,198.2 115.6,202.5 117.0,200.1 118.4,202.5 119.8,201.1 121.3,203.5 122.8,200.4 124.3,203.3 125.9,201.0 127.4,203.9 129.0,199.6 130.5,202.4 132.2,198.6 133.9,201.6 135.5,197.2 137.4,198.5 139.3,192.3 141.6,201.1 143.2,199.4 144.8,204.7 146.4,203.6 148.1,208.5 149.8,206.8 151.2,211.4 152.6,209.3 154.0,214.3 154.8,250.7 156.2,250.7 157.6,250.7 159.0,250.7 160.5,250.7 161.9,250.7 163.3,250.7 164.7,250.7 166.2,250.7 166.2,254.0"/>
<polyline fill="none" stroke="#F4B183" stroke-width="1.45" stroke-linejoin="round" points="84.2,254.0 85.6,244.8 87.1,232.3 88.5,231.7 89.9,226.8 91.3,226.4 92.8,221.6 94.2,223.6 95.6,220.8 97.0,223.3 98.5,219.9 99.9,223.0 101.3,219.9 102.7,222.2 104.2,218.3 105.6,220.9 107.0,217.2 108.4,220.8 109.9,217.2 111.3,219.7 112.7,215.9 114.1,218.7 115.6,216.0 117.0,219.2 118.4,216.6 119.8,218.7 121.3,215.1 122.7,218.8 124.1,215.3 125.5,218.5 127.0,214.6 128.4,217.3 129.8,213.5 131.2,216.2 132.7,213.4 134.1,216.7 135.5,213.6 136.9,216.9 138.4,213.6 139.8,216.3 141.2,213.3 142.6,216.7 144.1,213.8 145.5,216.2 146.9,213.5 148.3,216.4 149.8,212.8 151.3,215.4 152.8,211.6 154.3,214.4 155.8,211.0 157.2,213.0 158.7,209.8 160.2,210.7 160.2,254.0"/>
<polyline fill="none" stroke="#4472C4" stroke-width="1.45" stroke-linejoin="round" points="81.4,254.0 82.8,245.9 84.2,231.7 85.6,225.0 87.1,220.6 88.5,221.8 89.9,218.2 91.3,219.7 92.8,215.2 94.3,218.8 95.8,216.1 97.3,218.7 98.9,214.8 100.4,218.4 101.9,216.1 103.4,218.0 105.0,215.9 106.5,217.3 108.0,213.8 109.6,217.3 111.1,213.7 112.6,217.0 114.1,212.7 115.6,216.1 117.0,212.3 118.4,215.2 119.8,211.4 121.3,214.4 122.8,210.6 124.4,212.9 126.0,209.8 127.6,212.6 129.1,209.0 130.7,211.4 132.3,209.3 133.9,210.7 135.5,207.7 136.9,212.4 138.4,209.1 139.8,212.6 141.2,209.9 142.6,214.4 144.1,211.5 145.5,214.7 147.0,212.4 148.6,214.9 150.1,212.4 151.7,214.9 153.2,211.9 154.8,215.7 156.2,212.5 157.6,214.6 159.0,211.9 160.5,213.3 161.9,210.1 163.3,213.4 164.7,209.4 166.9,210.0 168.2,202.4 168.2,254.0"/>
<polyline fill="none" stroke="#F05A1E" stroke-width="1.45" stroke-linejoin="round" points="84.3,254.0 86.7,226.4 87.5,218.3 89.0,218.8 90.6,212.6 92.2,218.2 93.8,215.6 95.4,217.6 97.0,214.6 98.6,218.4 100.2,216.9 101.8,218.0 103.4,215.6 105.0,218.2 106.6,217.0 108.2,218.8 109.8,214.9 111.4,219.1 112.9,217.5 114.5,219.6 116.1,217.2 117.7,218.5 119.3,214.4 120.9,218.9 122.5,217.8 124.1,220.6 125.7,219.1 127.3,222.1 128.9,217.5 130.4,219.3 131.9,214.6 133.4,216.6 134.8,212.6 136.2,215.4 137.7,211.3 139.1,214.1 140.5,210.3 141.9,213.8 143.4,210.8 144.8,212.7 146.2,210.8 147.6,215.0 149.1,212.7 150.5,215.1 151.9,212.6 153.3,215.9 154.8,213.4 156.4,215.4 158.0,211.8 159.6,212.4 161.2,208.1 163.3,212.1 164.7,204.0 166.2,209.5 166.9,215.4 166.9,254.0"/>
<polyline fill="none" stroke="#2E9BE5" stroke-width="1.45" stroke-linejoin="round" points="104.9,254.0 105.2,214.7 106.8,190.0 109.1,195.3 111.5,192.7 113.8,194.9 116.2,194.5 118.5,196.3 120.8,193.0 123.2,198.6 125.5,193.6 127.8,197.8 129.4,195.7 131.0,198.5 132.5,194.5 134.0,198.3 135.5,195.0 137.2,196.9 138.8,192.0 140.5,195.2 142.3,192.0 144.2,195.3 146.0,193.2 147.6,196.7 149.2,194.4 150.8,198.6 152.3,196.3 153.9,202.1 155.5,200.1 157.0,203.0 158.6,197.8 160.2,196.2 161.8,190.4 163.4,195.2 164.9,193.4 166.5,193.6 168.2,186.8 169.7,186.9 171.4,196.3 172.2,242.7 172.9,240.6 172.9,254.0"/>
<text x="69.0" y="257.7" font-size="10.5" text-anchor="end">0</text>
<text x="69.0" y="237.1" font-size="10.5" text-anchor="end">10</text>
<text x="69.0" y="216.4" font-size="10.5" text-anchor="end">20</text>
<text x="69.0" y="195.8" font-size="10.5" text-anchor="end">30</text>
<text x="69.0" y="175.2" font-size="10.5" text-anchor="end">40</text>
<text x="78.5" y="270.6" font-size="10.5" text-anchor="middle">0</text>
<text x="114.1" y="270.6" font-size="10.5" text-anchor="middle">50</text>
<text x="149.8" y="270.6" font-size="10.5" text-anchor="middle">100</text>
<text x="185.4" y="270.6" font-size="10.5" text-anchor="middle">150</text>
<text x="130.4" y="283.5" font-size="10.5" text-anchor="middle"><tspan font-style="italic">t</tspan> [s]</text>
<text transform="translate(51.8 210.8) rotate(-90)" font-size="10.5" text-anchor="middle"><tspan font-style="italic">T</tspan><tspan font-size="7.5" dy="2.5">p</tspan><tspan dy="-2.5"> [N/m]</tspan></text>
<text x="114.8" y="180.7" font-size="10.7"><tspan font-style="italic">N</tspan> = 13, <tspan font-style="italic">n</tspan> = 21</text>
<text x="26.8" y="166.4" font-size="11">(d)</text>
<path d="M255.0 171.5V253.0H360.0" fill="none" stroke="#a8a8a8" stroke-width="1.3"/>
<path d="M255.0 253.0H258.2" stroke="#b3b3b3" stroke-width="1"/>
<path d="M255.0 232.6H258.2" stroke="#b3b3b3" stroke-width="1"/>
<path d="M255.0 212.2H258.2" stroke="#b3b3b3" stroke-width="1"/>
<path d="M255.0 191.9H258.2" stroke="#b3b3b3" stroke-width="1"/>
<path d="M255.0 171.5H258.2" stroke="#b3b3b3" stroke-width="1"/>
<path d="M255.0 253.0V249.8" stroke="#b3b3b3" stroke-width="1"/>
<path d="M290.0 253.0V249.8" stroke="#b3b3b3" stroke-width="1"/>
<path d="M325.0 253.0V249.8" stroke="#b3b3b3" stroke-width="1"/>
<path d="M360.0 253.0V249.8" stroke="#b3b3b3" stroke-width="1"/>
<polyline fill="none" stroke="#C5E0B4" stroke-width="1.45" stroke-linejoin="round" points="259.2,253.0 260.6,246.4 262.0,235.6 263.8,235.2 265.5,227.6 267.1,231.0 268.8,226.8 270.4,229.8 271.8,227.7 273.2,230.1 274.6,226.6 276.0,229.5 277.8,225.7 279.5,228.7 281.2,227.0 283.0,231.2 284.8,226.3 286.5,227.9 287.9,226.5 289.3,228.6 289.5,230.6 289.5,253.0"/>
<polyline fill="none" stroke="#ED7D31" stroke-width="1.45" stroke-linejoin="round" points="257.1,253.0 258.5,241.9 259.9,226.7 261.6,227.4 263.4,221.1 264.8,222.6 266.2,219.1 267.6,222.3 269.0,220.7 270.4,224.7 271.8,222.4 273.2,228.6 274.6,227.1 275.3,230.6 275.3,253.0"/>
<polyline fill="none" stroke="#2E75B6" stroke-width="1.45" stroke-linejoin="round" points="256.4,253.0 258.5,225.9 260.6,216.8 262.0,220.4 263.4,219.4 264.8,222.4 266.2,220.7 267.6,225.7 269.0,225.0 269.7,228.6 269.7,253.0"/>
<polyline fill="none" stroke="#BF9000" stroke-width="1.45" stroke-linejoin="round" points="257.1,253.0 258.9,240.0 260.6,223.0 262.2,222.7 263.9,218.3 265.5,218.6 267.1,215.8 268.8,218.5 270.4,216.7 271.8,223.3 273.2,223.6 274.6,232.2 276.0,235.5 278.1,246.9 279.5,251.0 281.6,253.0"/>
<polyline fill="none" stroke="#92D050" stroke-width="1.45" stroke-linejoin="round" points="257.8,253.0 259.9,236.1 262.0,223.8 263.8,222.7 265.5,217.2 267.1,221.7 268.8,218.6 270.4,222.0 271.8,219.1 273.2,221.8 274.6,218.3 276.0,221.5 277.4,218.2 278.8,222.7 280.2,219.2 281.6,221.1 283.0,218.0 284.4,218.3 285.8,214.9 287.2,215.1 289.6,211.5 290.3,216.3 290.3,253.0"/>
<polyline fill="none" stroke="#7030A0" stroke-width="1.45" stroke-linejoin="round" points="255.7,253.0 257.1,238.2 259.2,220.4 260.6,220.8 262.0,214.2 263.4,217.4 264.8,213.5 266.2,216.9 267.6,215.0 269.0,218.2 270.4,217.7 271.8,223.5 273.2,235.2 274.6,248.9 276.0,253.0"/>
<polyline fill="none" stroke="#9DC3E6" stroke-width="1.45" stroke-linejoin="round" points="256.4,253.0 258.5,224.1 259.9,206.0 262.0,218.1 263.8,218.1 265.5,223.8 267.2,222.5 269.0,226.7 270.4,226.3 270.8,230.6 270.8,253.0"/>
<polyline fill="none" stroke="#FFC000" stroke-width="1.45" stroke-linejoin="round" points="257.8,253.0 259.2,245.9 260.6,236.0 262.0,229.6 263.8,223.3 265.5,222.5 267.1,216.3 268.8,218.3 270.4,213.5 271.8,214.8 273.2,209.8 274.6,211.9 276.0,208.7 277.4,212.3 278.8,211.4 280.2,213.1 281.6,208.1 283.0,214.0 284.4,213.1 285.8,216.6 287.2,213.8 288.6,217.2 290.0,220.4 290.0,253.0"/>
<polyline fill="none" stroke="#375623" stroke-width="1.45" stroke-linejoin="round" points="258.5,253.0 259.9,242.0 261.3,227.5 262.7,225.4 264.1,219.0 265.7,220.0 267.4,216.6 269.0,217.2 270.8,211.5 272.5,210.9 273.9,205.2 275.3,204.8 276.7,199.9 278.8,208.3 280.2,204.1 281.6,206.2 283.0,204.1 284.4,210.2 285.8,209.3 287.2,213.6 288.6,213.5 290.2,217.8 291.9,215.0 293.5,220.0 294.9,216.0 296.3,216.3 296.5,218.4 296.5,253.0 298.4,252.0"/>
<polyline fill="none" stroke="#BF9000" stroke-width="1.45" stroke-linejoin="round" points="257.1,253.0 258.1,213.5 259.2,196.2 260.6,205.5 262.0,212.6 264.1,217.2 265.9,214.3 267.6,215.0 269.2,212.8 270.9,216.5 272.5,214.4 274.2,217.9 276.0,215.2 277.4,217.3 278.8,214.7 280.2,216.4 281.6,214.3 283.0,218.5 284.4,217.4 285.8,219.3 287.2,216.2 288.6,218.9 290.0,215.5 291.4,218.2 292.8,214.9 294.2,217.4 295.6,215.1 297.0,219.4 298.4,208.8 300.5,217.4 301.9,218.4 302.2,220.4 302.2,253.0 303.8,252.5 305.4,252.0"/>
<text x="245.5" y="256.7" font-size="10.5" text-anchor="end">0</text>
<text x="245.5" y="236.3" font-size="10.5" text-anchor="end">10</text>
<text x="245.5" y="215.9" font-size="10.5" text-anchor="end">20</text>
<text x="245.5" y="195.6" font-size="10.5" text-anchor="end">30</text>
<text x="245.5" y="175.2" font-size="10.5" text-anchor="end">40</text>
<text x="255.0" y="269.6" font-size="10.5" text-anchor="middle">0</text>
<text x="290.0" y="269.6" font-size="10.5" text-anchor="middle">50</text>
<text x="325.0" y="269.6" font-size="10.5" text-anchor="middle">100</text>
<text x="360.0" y="269.6" font-size="10.5" text-anchor="middle">150</text>
<text x="309.1" y="282.4" font-size="10.5" text-anchor="middle"><tspan font-style="italic">t</tspan> [s]</text>
<text transform="translate(228.1 210.6) rotate(-90)" font-size="10.5" text-anchor="middle"><tspan font-style="italic">T</tspan><tspan font-size="7.5" dy="2.5">p</tspan><tspan dy="-2.5"> [N/m]</tspan></text>
<text x="292.8" y="180.3" font-size="10.7"><tspan font-style="italic">N</tspan> = 6, <tspan font-style="italic">n</tspan> = 10</text>
<text x="203.4" y="166.4" font-size="11">(e)</text>
<path d="M430.5 171.7V253.8H535.6" fill="none" stroke="#a8a8a8" stroke-width="1.3"/>
<path d="M430.5 253.8H433.7" stroke="#b3b3b3" stroke-width="1"/>
<path d="M430.5 233.3H433.7" stroke="#b3b3b3" stroke-width="1"/>
<path d="M430.5 212.8H433.7" stroke="#b3b3b3" stroke-width="1"/>
<path d="M430.5 192.2H433.7" stroke="#b3b3b3" stroke-width="1"/>
<path d="M430.5 171.7H433.7" stroke="#b3b3b3" stroke-width="1"/>
<path d="M430.5 253.8V250.6" stroke="#b3b3b3" stroke-width="1"/>
<path d="M465.5 253.8V250.6" stroke="#b3b3b3" stroke-width="1"/>
<path d="M500.6 253.8V250.6" stroke="#b3b3b3" stroke-width="1"/>
<path d="M535.6 253.8V250.6" stroke="#b3b3b3" stroke-width="1"/>
<polyline fill="none" stroke="#A5A5A5" stroke-width="1.45" stroke-linejoin="round" points="432.6,253.8 434.7,242.6 436.1,237.4 437.5,236.6 438.9,236.2 440.3,243.7 441.7,240.4 443.1,243.5 443.1,253.8"/>
<polyline fill="none" stroke="#92D050" stroke-width="1.45" stroke-linejoin="round" points="437.5,253.8 438.9,248.7 440.3,244.4 441.7,240.4 443.1,241.5 444.5,236.6 445.9,238.4 447.3,234.6 448.7,237.1 450.1,233.4 451.5,235.2 452.9,232.6 454.3,235.2 455.7,234.1 457.1,237.3 458.5,241.0 459.9,249.7 460.6,253.8"/>
<polyline fill="none" stroke="#C5E0B4" stroke-width="1.45" stroke-linejoin="round" points="437.5,253.8 439.3,246.6 441.0,236.0 442.8,233.3 444.5,224.0 445.9,226.0 447.3,222.8 448.7,224.0 450.1,222.5 451.5,227.5 452.9,226.1 454.3,230.0 455.7,230.4 457.1,234.9 458.5,235.9 459.9,242.6 462.0,247.6 462.7,253.8"/>
<polyline fill="none" stroke="#5B9BD5" stroke-width="1.45" stroke-linejoin="round" points="431.9,253.8 434.0,234.3 435.4,228.6 436.8,228.9 438.2,228.2 439.6,234.9 441.0,234.3 442.4,238.2 444.5,239.4 444.5,253.8"/>
<polyline fill="none" stroke="#ED7D31" stroke-width="1.45" stroke-linejoin="round" points="431.2,253.8 433.3,239.2 434.7,232.0 436.1,231.0 437.5,231.5 438.9,237.3 441.0,242.3 442.4,245.6 442.4,253.8"/>
<polyline fill="none" stroke="#FFC000" stroke-width="1.45" stroke-linejoin="round" points="432.6,253.8 434.7,239.4 436.1,233.3 437.5,234.7 438.9,230.5 440.3,231.3 441.7,230.8 443.1,237.4 444.5,236.3 445.9,240.4 447.3,239.5 448.7,244.8 450.1,245.6 450.1,253.8"/>
<polyline fill="none" stroke="#FFE699" stroke-width="1.45" stroke-linejoin="round" points="436.1,253.8 437.5,244.5 438.9,232.0 440.4,223.6 441.9,210.0 443.1,224.5 444.5,224.7 445.9,230.7 447.3,230.4 448.7,235.1 450.1,233.4 451.5,239.4 452.9,240.3 454.3,247.4 455.0,253.8"/>
<polyline fill="none" stroke="#70AD47" stroke-width="1.45" stroke-linejoin="round" points="431.9,253.8 434.0,230.4 436.1,221.1 437.5,221.7 438.9,216.9 440.3,223.1 441.7,221.6 443.1,222.5 444.5,217.4 445.9,224.5 447.3,226.4 448.7,231.4 450.1,230.2 451.5,246.6 452.9,253.8"/>
<polyline fill="none" stroke="#A9D18E" stroke-width="1.45" stroke-linejoin="round" points="433.3,253.8 434.7,244.4 436.1,232.2 437.5,227.0 438.9,216.1 440.3,218.7 441.7,217.1 443.1,223.0 444.5,224.4 445.9,224.6 447.3,219.4 448.7,225.5 450.1,225.3 451.5,235.1 452.9,239.4 454.3,253.8"/>
<polyline fill="none" stroke="#7030A0" stroke-width="1.45" stroke-linejoin="round" points="433.1,253.8 433.1,224.8 434.0,224.3 434.7,238.2 435.4,253.8"/>
<polyline fill="none" stroke="#BF9000" stroke-width="1.45" stroke-linejoin="round" points="434.7,253.8 436.1,249.7 437.5,247.0 438.9,242.1 440.3,242.6 441.9,239.1 443.5,239.7 445.1,236.5 446.7,238.0 448.2,233.3 450.0,236.1 451.8,233.5 453.6,236.8 455.5,233.8 457.3,236.6 459.2,232.4 461.5,233.7 461.5,252.8 462.9,252.8 464.3,252.8 465.7,252.8 467.1,252.8 468.5,252.8"/>
<polyline fill="none" stroke="#ED7D31" stroke-width="1.45" stroke-linejoin="round" points="431.2,253.8 432.6,249.7 434.0,246.9 435.6,241.5 437.2,242.1 438.8,236.9 440.3,238.1 442.2,239.1 443.7,243.9 445.1,241.6 446.6,244.6 448.0,243.1 449.6,246.3 451.3,243.4 452.9,248.2 454.5,243.4 456.1,246.8 457.7,242.2 459.2,244.3 460.7,242.7 462.3,247.1 463.8,243.4 465.3,245.2 466.8,241.2 468.3,242.8 469.7,239.4 471.1,241.8 472.5,237.8 473.9,237.0 474.2,239.4 474.2,253.8"/>
<polyline fill="none" stroke="#375623" stroke-width="1.45" stroke-linejoin="round" points="434.0,253.8 435.8,244.9 437.5,231.8 438.9,228.9 440.3,222.1 442.4,217.4 443.8,222.1 445.9,222.1 448.0,213.5 449.4,227.0 451.5,227.1 452.9,245.6 453.6,253.8"/>
<polyline fill="none" stroke="#1F4E79" stroke-width="1.45" stroke-linejoin="round" points="436.1,253.8 437.5,246.3 438.9,235.7 440.3,233.3 441.7,225.4 443.1,225.1 444.5,219.4 445.9,220.0 447.3,213.1 448.7,223.1 450.8,216.4 452.2,216.6 453.6,221.2 455.0,223.8 456.4,220.8 458.2,225.2 459.9,224.2 462.0,222.6 464.1,223.9 465.9,226.3 467.6,222.3 469.9,222.6 471.7,223.2 473.5,229.3 475.3,224.8 477.2,223.9 479.0,220.9 480.7,222.5 482.6,221.0 484.4,224.1 486.2,223.5 488.0,227.2 489.8,226.3 490.7,231.2 490.7,253.0 493.3,253.0"/>
<text x="421.0" y="257.5" font-size="10.5" text-anchor="end">0</text>
<text x="421.0" y="237.0" font-size="10.5" text-anchor="end">10</text>
<text x="421.0" y="216.4" font-size="10.5" text-anchor="end">20</text>
<text x="421.0" y="195.9" font-size="10.5" text-anchor="end">30</text>
<text x="421.0" y="175.4" font-size="10.5" text-anchor="end">40</text>
<text x="430.5" y="270.4" font-size="10.5" text-anchor="middle">0</text>
<text x="465.5" y="270.4" font-size="10.5" text-anchor="middle">50</text>
<text x="500.6" y="270.4" font-size="10.5" text-anchor="middle">100</text>
<text x="535.6" y="270.4" font-size="10.5" text-anchor="middle">150</text>
<text x="482.4" y="283.5" font-size="10.5" text-anchor="middle"><tspan font-style="italic">t</tspan> [s]</text>
<text transform="translate(404.9 210.9) rotate(-90)" font-size="10.5" text-anchor="middle"><tspan font-style="italic">T</tspan><tspan font-size="7.5" dy="2.5">p</tspan><tspan dy="-2.5"> [N/m]</tspan></text>
<text x="467.2" y="180.3" font-size="10.7"><tspan font-style="italic">N</tspan> = 6, <tspan font-style="italic">n</tspan> = 14</text>
<text x="380.3" y="166.4" font-size="11">(f)</text>
<text transform="translate(13.2 72.4) rotate(-90)" font-size="13" text-anchor="middle"><tspan font-style="italic">θ</tspan> direction</text>
<text transform="translate(13.2 218.3) rotate(-90)" font-size="13" text-anchor="middle">z direction</text>
</svg></div></body></html>
